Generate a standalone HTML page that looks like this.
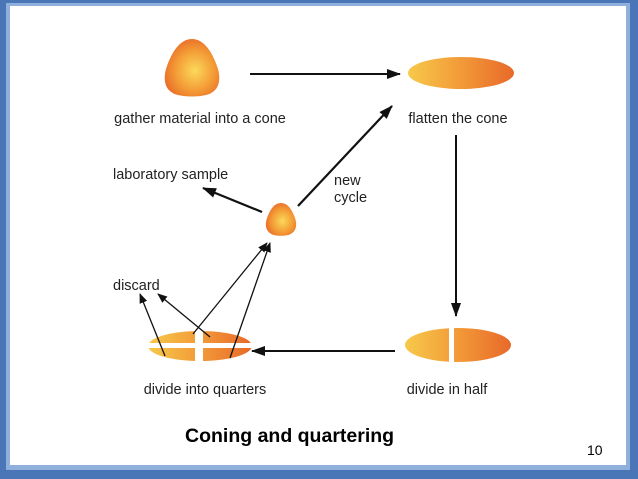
<!DOCTYPE html>
<html><head><meta charset="utf-8"><style>
html,body{margin:0;padding:0;width:638px;height:479px;overflow:hidden;background:#fff}
svg text{font-family:"Liberation Sans",sans-serif;fill:#222}
</style></head><body>
<svg width="638" height="479" viewBox="0 0 638 479" xmlns="http://www.w3.org/2000/svg">
<defs>
<linearGradient id="lg" x1="0" x2="1" y1="0" y2="0"><stop offset="0" stop-color="#f7c94a"/><stop offset="0.5" stop-color="#f29a38"/><stop offset="1" stop-color="#e8692a"/></linearGradient>
<radialGradient id="rg" cx="0.55" cy="0.55" r="0.6"><stop offset="0" stop-color="#fbd95a"/><stop offset="0.6" stop-color="#f39a35"/><stop offset="1" stop-color="#e86a28"/></radialGradient>
<marker id="ah" markerWidth="10" markerHeight="8" refX="9" refY="4" orient="auto" markerUnits="userSpaceOnUse"><path d="M0,0 L10,4 L0,8 z" fill="#111"/></marker>
<marker id="as" markerWidth="14" markerHeight="10" refX="13" refY="5" orient="auto" markerUnits="userSpaceOnUse"><path d="M0,0 L14,5 L0,10 z" fill="#111"/></marker>
</defs>
<rect x="0" y="0" width="638" height="479" fill="#4a76b8"/>
<rect x="6" y="3" width="624" height="467" fill="#8fb0dd"/>
<rect x="10" y="6" width="616" height="459" fill="#fff"/>
<path d="M192,39 C204,39 212,52 217,66 C222,80 219,92 206,95 C198,97 186,97 178,95 C165,92 162,80 167,66 C172,52 180,39 192,39 Z" fill="url(#rg)"/>
<ellipse cx="461" cy="73" rx="53" ry="16" fill="url(#lg)"/>
<ellipse cx="458" cy="345" rx="53" ry="17" fill="url(#lg)"/>
<rect x="449" y="325" width="5" height="40" fill="#fff"/>
<ellipse cx="200" cy="346" rx="52" ry="15" fill="url(#lg)"/>
<rect x="195" y="328" width="8" height="38" fill="#fff"/>
<rect x="140" y="343" width="120" height="5" fill="#fff"/>
<path d="M281,203 C288,203 292,210 295,218 C298,227 295,233 288,235 C284,236 278,236 274,235 C267,233 264,227 267,218 C270,210 274,203 281,203 Z" fill="url(#rg)"/>
<g stroke="#111" fill="none">
<line x1="250" y1="74" x2="400" y2="74" stroke-width="2" marker-end="url(#as)"/>
<line x1="456" y1="135" x2="456" y2="316" stroke-width="2" marker-end="url(#as)"/>
<line x1="395" y1="351" x2="252" y2="351" stroke-width="2" marker-end="url(#as)"/>
<line x1="298" y1="206" x2="392" y2="106" stroke-width="2.2" marker-end="url(#as)"/>
<line x1="262" y1="212" x2="203" y2="188" stroke-width="2.2" marker-end="url(#as)"/>
<line x1="193" y1="334" x2="267" y2="243" stroke-width="1.3" marker-end="url(#ah)"/>
<line x1="230" y1="358" x2="270" y2="243" stroke-width="1.3" marker-end="url(#ah)"/>
<line x1="165" y1="356" x2="140" y2="294" stroke-width="1.3" marker-end="url(#ah)"/>
<line x1="210" y1="337" x2="158" y2="294" stroke-width="1.3" marker-end="url(#ah)"/>
</g>
<text x="200" y="123" font-size="14.5" text-anchor="middle">gather material into a cone</text>
<text x="458" y="123" font-size="14.5" text-anchor="middle">flatten the cone</text>
<text x="113" y="179" font-size="14.5">laboratory sample</text>
<text x="334" y="185" font-size="14.5">new</text>
<text x="334" y="202" font-size="14.5">cycle</text>
<text x="113" y="290" font-size="14.5">discard</text>
<text x="205" y="394" font-size="14.5" text-anchor="middle">divide into quarters</text>
<text x="447" y="394" font-size="14.5" text-anchor="middle">divide in half</text>
<text x="185" y="442" font-size="19.5" font-weight="bold" style="fill:#000">Coning and quartering</text>
<text x="587" y="455" font-size="14" style="fill:#000">10</text>
</svg>
</body></html>
